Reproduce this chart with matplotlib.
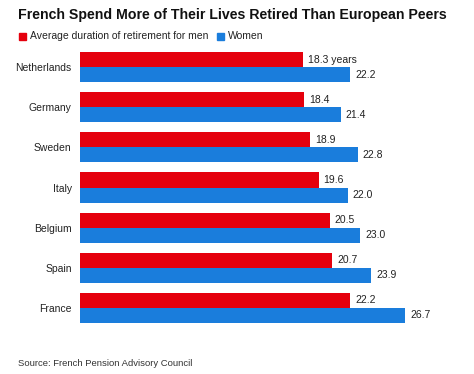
import matplotlib
matplotlib.use("Agg")
import matplotlib.pyplot as plt
import numpy as np

countries = ["Netherlands", "Germany", "Sweden", "Italy", "Belgium", "Spain", "France"]
men = [18.3, 18.4, 18.9, 19.6, 20.5, 20.7, 22.2]
women = [22.2, 21.4, 22.8, 22.0, 23.0, 23.9, 26.7]

RED = "#e5000d"
BLUE = "#1a7ddc"

plt.rcParams["font.family"] = ["Liberation Sans", "DejaVu Sans"]

fig = plt.figure(figsize=(4.74, 3.74), dpi=100)
ax = fig.add_axes([80 / 474, 1 - 323 / 374, 394 / 474, 271 / 374])

y = np.arange(len(countries))
h = 0.375
ax.barh(y - h / 2, men, height=h, color=RED)
ax.barh(y + h / 2, women, height=h, color=BLUE)

for i in range(len(countries)):
    lab = f"{men[i]:.1f}" + (" years" if i == 0 else "")
    ax.text(men[i] + 0.4, y[i] - h / 2, lab, va="center", ha="left", fontsize=7.5, color="#222222")
    ax.text(women[i] + 0.4, y[i] + h / 2, f"{women[i]:.1f}", va="center", ha="left", fontsize=7.5, color="#222222")

ax.set_xlim(0, 394 / 12.18)
ax.set_ylim(len(countries) - 1 + 0.375, -0.375)
ax.set_yticks(y)
ax.set_yticklabels(countries, fontsize=7.5, color="#222222")
ax.tick_params(axis="y", length=0, pad=6)
ax.set_xticks([])
for s in ax.spines.values():
    s.set_visible(False)

fig.text(18 / 474, 1 - 15 / 374, "French Spend More of Their Lives Retired Than European Peers",
         fontsize=10.2, fontweight="bold", va="center", ha="left", color="#111111")

# legend
fig.patches.append(plt.Rectangle((19 / 474, 1 - 40 / 374), 7 / 474, 7 / 374, color=RED, transform=fig.transFigure))
fig.text(30 / 474, 1 - 36 / 374, "Average duration of retirement for men", fontsize=7.5, va="center", color="#222222")
fig.patches.append(plt.Rectangle((217 / 474, 1 - 40 / 374), 7 / 474, 7 / 374, color=BLUE, transform=fig.transFigure))
fig.text(228 / 474, 1 - 36 / 374, "Women", fontsize=7.5, va="center", color="#222222")

fig.text(18 / 474, 1 - 363 / 374, "Source: French Pension Advisory Council", fontsize=6.8, va="center", color="#333333")

fig.savefig("out.png", dpi=100)
